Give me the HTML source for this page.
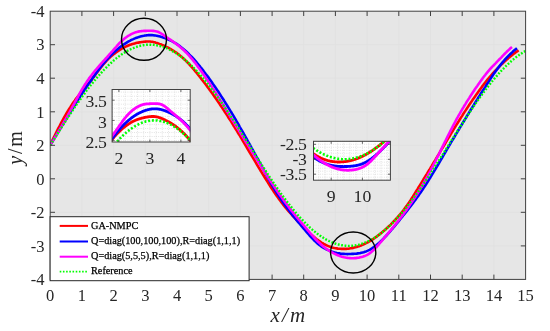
<!DOCTYPE html><html><head><meta charset="utf-8"><title>Trajectory tracking</title>
<style>html,body{margin:0;padding:0;background:#fff;}svg{display:block;}text{font-family:"Liberation Serif","DejaVu Serif",serif;fill:#262626;}</style></head><body>
<svg width="550" height="331" viewBox="0 0 550 331">
<rect x="0" y="0" width="550" height="331" fill="#ffffff"/>
<rect x="50.2" y="11.2" width="475.4" height="268.2" fill="#e6e6e6"/>
<path d="M81.9,11.2 V279.4 M113.6,11.2 V279.4 M145.3,11.2 V279.4 M177.0,11.2 V279.4 M208.7,11.2 V279.4 M240.4,11.2 V279.4 M272.1,11.2 V279.4 M303.7,11.2 V279.4 M335.4,11.2 V279.4 M367.1,11.2 V279.4 M398.8,11.2 V279.4 M430.5,11.2 V279.4 M462.2,11.2 V279.4 M493.9,11.2 V279.4 M50.2,44.7 H525.6 M50.2,78.2 H525.6 M50.2,111.8 H525.6 M50.2,145.3 H525.6 M50.2,178.8 H525.6 M50.2,212.3 H525.6 M50.2,245.9 H525.6" stroke="#e0e0e0" stroke-width="0.8" fill="none"/>
<clipPath id="c0"><rect x="50.2" y="11.2" width="475.4" height="268.2"/></clipPath>
<g clip-path="url(#c0)" fill="none" stroke-linejoin="round">
<path d="M50.2,144.5 L51.4,142.2 L52.5,140.0 L53.7,137.6 L54.9,135.3 L56.1,132.9 L57.2,130.6 L58.4,128.2 L59.6,126.0 L60.8,123.7 L61.9,121.5 L63.1,119.3 L64.3,117.2 L65.5,115.1 L66.6,113.1 L67.8,111.1 L69.0,109.2 L70.2,107.4 L71.3,105.6 L72.5,103.8 L73.7,102.1 L74.9,100.5 L76.0,98.8 L77.2,97.2 L78.4,95.7 L79.6,94.2 L80.7,92.7 L81.9,91.3 L83.1,89.9 L84.2,88.5 L85.4,87.2 L86.6,85.8 L87.8,84.5 L88.9,83.0 L90.1,81.6 L91.3,80.1 L92.5,78.6 L93.6,77.0 L94.8,75.4 L96.0,73.8 L97.2,72.2 L98.3,70.7 L99.5,69.1 L100.7,67.6 L101.9,66.1 L103.0,64.7 L104.2,63.3 L105.4,62.0 L106.6,60.7 L107.7,59.5 L108.9,58.4 L110.1,57.3 L111.2,56.2 L112.4,55.2 L113.6,54.3 L114.8,53.4 L115.9,52.5 L117.1,51.6 L118.3,50.8 L119.5,50.1 L120.6,49.4 L121.8,48.7 L123.0,48.0 L124.2,47.4 L125.3,46.8 L126.5,46.2 L127.7,45.7 L128.9,45.2 L130.0,44.8 L131.2,44.4 L132.4,44.0 L133.6,43.7 L134.7,43.4 L135.9,43.1 L137.1,42.8 L138.3,42.6 L139.4,42.4 L140.6,42.2 L141.8,42.0 L142.9,41.9 L144.1,41.7 L145.3,41.6 L146.5,41.5 L147.6,41.5 L148.8,41.5 L150.0,41.5 L151.2,41.7 L152.3,41.8 L153.5,42.1 L154.7,42.3 L155.9,42.7 L157.0,43.0 L158.2,43.4 L159.4,43.9 L160.6,44.3 L161.7,44.8 L162.9,45.3 L164.1,45.8 L165.3,46.3 L166.4,46.9 L167.6,47.4 L168.8,48.0 L169.9,48.7 L171.1,49.4 L172.3,50.1 L173.5,50.8 L174.6,51.6 L175.8,52.4 L177.0,53.2 L178.2,54.1 L179.3,55.0 L180.5,56.0 L181.7,56.9 L182.9,58.0 L184.0,59.0 L185.2,60.1 L186.4,61.3 L187.6,62.5 L188.7,63.7 L189.9,65.0 L191.1,66.3 L192.3,67.6 L193.4,69.0 L194.6,70.4 L195.8,71.8 L197.0,73.2 L198.1,74.7 L199.3,76.2 L200.5,77.7 L201.6,79.2 L202.8,80.7 L204.0,82.2 L205.2,83.8 L206.3,85.3 L207.5,86.9 L208.7,88.5 L209.9,90.1 L211.0,91.7 L212.2,93.3 L213.4,95.0 L214.6,96.7 L215.7,98.3 L216.9,100.0 L218.1,101.7 L219.3,103.4 L220.4,105.2 L221.6,106.9 L222.8,108.7 L224.0,110.5 L225.1,112.3 L226.3,114.1 L227.5,115.9 L228.6,117.7 L229.8,119.6 L231.0,121.4 L232.2,123.3 L233.3,125.2 L234.5,127.1 L235.7,129.0 L236.9,130.9 L238.0,132.8 L239.2,134.7 L240.4,136.7 L241.6,138.6 L242.7,140.6 L243.9,142.6 L245.1,144.5 L246.3,146.5 L247.4,148.5 L248.6,150.5 L249.8,152.5 L251.0,154.5 L252.1,156.4 L253.3,158.4 L254.5,160.4 L255.7,162.4 L256.8,164.3 L258.0,166.3 L259.2,168.3 L260.3,170.2 L261.5,172.1 L262.7,174.1 L263.9,176.0 L265.0,177.9 L266.2,179.8 L267.4,181.6 L268.6,183.5 L269.7,185.3 L270.9,187.2 L272.1,189.0 L273.3,190.7 L274.4,192.5 L275.6,194.2 L276.8,195.9 L278.0,197.6 L279.1,199.2 L280.3,200.8 L281.5,202.4 L282.7,203.9 L283.8,205.4 L285.0,206.9 L286.2,208.3 L287.3,209.7 L288.5,211.1 L289.7,212.4 L290.9,213.7 L292.0,215.0 L293.2,216.3 L294.4,217.5 L295.6,218.8 L296.7,220.0 L297.9,221.3 L299.1,222.5 L300.3,223.7 L301.4,224.9 L302.6,226.1 L303.8,227.4 L305.0,228.5 L306.1,229.7 L307.3,230.9 L308.5,232.0 L309.7,233.1 L310.8,234.2 L312.0,235.3 L313.2,236.3 L314.4,237.3 L315.5,238.2 L316.7,239.2 L317.9,240.1 L319.0,240.9 L320.2,241.7 L321.4,242.5 L322.6,243.2 L323.7,243.9 L324.9,244.5 L326.1,245.1 L327.3,245.7 L328.4,246.1 L329.6,246.6 L330.8,247.0 L332.0,247.4 L333.1,247.7 L334.3,248.0 L335.5,248.2 L336.7,248.4 L337.8,248.6 L339.0,248.7 L340.2,248.8 L341.4,248.9 L342.5,248.9 L343.7,248.9 L344.9,248.9 L346.0,248.9 L347.2,248.8 L348.4,248.7 L349.6,248.5 L350.7,248.3 L351.9,248.1 L353.1,247.9 L354.3,247.6 L355.4,247.3 L356.6,247.0 L357.8,246.6 L359.0,246.2 L360.1,245.8 L361.3,245.4 L362.5,244.9 L363.7,244.3 L364.8,243.8 L366.0,243.2 L367.2,242.6 L368.4,242.0 L369.5,241.3 L370.7,240.6 L371.9,239.8 L373.1,239.1 L374.2,238.3 L375.4,237.5 L376.6,236.6 L377.7,235.8 L378.9,234.9 L380.1,234.0 L381.3,233.0 L382.4,232.1 L383.6,231.1 L384.8,230.0 L386.0,229.0 L387.1,227.9 L388.3,226.8 L389.5,225.7 L390.7,224.6 L391.8,223.4 L393.0,222.2 L394.2,220.9 L395.4,219.7 L396.5,218.4 L397.7,217.1 L398.9,215.7 L400.1,214.4 L401.2,213.0 L402.4,211.5 L403.6,210.0 L404.7,208.5 L405.9,206.9 L407.1,205.3 L408.3,203.6 L409.4,201.9 L410.6,200.2 L411.8,198.3 L413.0,196.5 L414.1,194.6 L415.3,192.7 L416.5,190.8 L417.7,188.9 L418.8,187.0 L420.0,185.1 L421.2,183.2 L422.4,181.3 L423.5,179.3 L424.7,177.4 L425.9,175.5 L427.1,173.6 L428.2,171.7 L429.4,169.8 L430.6,167.8 L431.8,165.9 L432.9,164.0 L434.1,162.0 L435.3,160.1 L436.4,158.1 L437.6,156.1 L438.8,154.2 L440.0,152.2 L441.1,150.2 L442.3,148.2 L443.5,146.3 L444.7,144.3 L445.8,142.3 L447.0,140.4 L448.2,138.4 L449.4,136.5 L450.5,134.5 L451.7,132.6 L452.9,130.7 L454.1,128.7 L455.2,126.8 L456.4,124.9 L457.6,123.0 L458.8,121.1 L459.9,119.3 L461.1,117.4 L462.3,115.6 L463.4,113.7 L464.6,111.9 L465.8,110.1 L467.0,108.3 L468.1,106.6 L469.3,104.8 L470.5,103.0 L471.7,101.3 L472.8,99.6 L474.0,97.9 L475.2,96.2 L476.4,94.5 L477.5,92.9 L478.7,91.2 L479.9,89.6 L481.1,88.0 L482.2,86.4 L483.4,84.9 L484.6,83.3 L485.8,81.8 L486.9,80.4 L488.1,78.9 L489.3,77.5 L490.5,76.2 L491.6,74.8 L492.8,73.5 L494.0,72.2 L495.1,71.0 L496.3,69.7 L497.5,68.5 L498.7,67.3 L499.8,66.1 L501.0,64.9 L502.2,63.8 L503.4,62.7 L504.5,61.6 L505.7,60.5 L506.9,59.4 L508.1,58.4 L509.2,57.4 L510.4,56.4 L511.6,55.5 L512.8,54.5 L513.9,53.6 L515.1,52.8 L516.3,51.9 L517.5,51.1 L518.6,50.3" stroke="#ff0000" stroke-width="2.6"/>
<path d="M50.2,145.2 L51.4,143.3 L52.5,141.4 L53.7,139.4 L54.9,137.5 L56.1,135.6 L57.2,133.6 L58.4,131.7 L59.6,129.8 L60.7,127.8 L61.9,125.9 L63.1,124.0 L64.2,122.0 L65.4,120.1 L66.6,118.2 L67.8,116.3 L68.9,114.4 L70.1,112.5 L71.3,110.6 L72.4,108.7 L73.6,106.9 L74.8,105.0 L75.9,103.1 L77.1,101.3 L78.3,99.5 L79.5,97.7 L80.6,95.9 L81.8,94.1 L83.0,92.3 L84.1,90.5 L85.3,88.8 L86.5,87.0 L87.6,85.3 L88.8,83.6 L90.0,81.9 L91.2,80.2 L92.3,78.5 L93.5,76.9 L94.7,75.2 L95.8,73.6 L97.0,72.0 L98.2,70.4 L99.3,68.8 L100.5,67.3 L101.7,65.8 L102.9,64.3 L104.0,62.9 L105.2,61.5 L106.4,60.2 L107.5,58.9 L108.7,57.6 L109.9,56.4 L111.0,55.2 L112.2,54.0 L113.4,52.9 L114.6,51.8 L115.7,50.8 L116.9,49.8 L118.1,48.8 L119.2,47.8 L120.4,46.9 L121.6,46.0 L122.7,45.2 L123.9,44.4 L125.1,43.6 L126.3,42.8 L127.4,42.1 L128.6,41.4 L129.8,40.8 L130.9,40.2 L132.1,39.6 L133.3,39.1 L134.4,38.6 L135.6,38.1 L136.8,37.7 L138.0,37.3 L139.1,36.9 L140.3,36.6 L141.5,36.3 L142.6,36.0 L143.8,35.8 L145.0,35.5 L146.1,35.4 L147.3,35.2 L148.5,35.1 L149.7,35.1 L150.8,35.1 L152.0,35.1 L153.2,35.2 L154.3,35.4 L155.5,35.5 L156.7,35.7 L157.8,36.0 L159.0,36.3 L160.2,36.6 L161.4,36.9 L162.5,37.3 L163.7,37.7 L164.9,38.1 L166.0,38.6 L167.2,39.0 L168.4,39.6 L169.5,40.1 L170.7,40.6 L171.9,41.2 L173.1,41.8 L174.2,42.5 L175.4,43.2 L176.6,43.9 L177.7,44.7 L178.9,45.5 L180.1,46.4 L181.2,47.3 L182.4,48.2 L183.6,49.2 L184.8,50.2 L185.9,51.2 L187.1,52.3 L188.3,53.4 L189.4,54.6 L190.6,55.8 L191.8,57.0 L192.9,58.2 L194.1,59.5 L195.3,60.8 L196.5,62.2 L197.6,63.6 L198.8,65.0 L200.0,66.4 L201.1,67.9 L202.3,69.4 L203.5,70.9 L204.6,72.4 L205.8,74.0 L207.0,75.5 L208.2,77.1 L209.3,78.7 L210.5,80.4 L211.7,82.0 L212.8,83.7 L214.0,85.4 L215.2,87.1 L216.3,88.8 L217.5,90.6 L218.7,92.3 L219.9,94.1 L221.0,95.9 L222.2,97.7 L223.4,99.5 L224.5,101.4 L225.7,103.3 L226.9,105.1 L228.0,107.0 L229.2,108.9 L230.4,110.9 L231.6,112.8 L232.7,114.7 L233.9,116.7 L235.1,118.7 L236.2,120.7 L237.4,122.7 L238.6,124.7 L239.7,126.8 L240.9,128.8 L242.1,130.9 L243.3,132.9 L244.4,135.0 L245.6,137.1 L246.8,139.2 L247.9,141.3 L249.1,143.4 L250.3,145.5 L251.4,147.6 L252.6,149.7 L253.8,151.8 L255.0,154.0 L256.1,156.1 L257.3,158.2 L258.5,160.4 L259.6,162.5 L260.8,164.7 L262.0,166.8 L263.1,169.0 L264.3,171.2 L265.5,173.3 L266.7,175.4 L267.8,177.6 L269.0,179.7 L270.2,181.7 L271.3,183.8 L272.5,185.8 L273.7,187.8 L274.8,189.7 L276.0,191.6 L277.2,193.5 L278.4,195.3 L279.5,197.1 L280.7,198.9 L281.9,200.6 L283.0,202.3 L284.2,203.9 L285.4,205.6 L286.5,207.2 L287.7,208.8 L288.9,210.3 L290.1,211.9 L291.2,213.4 L292.4,214.9 L293.6,216.4 L294.7,217.8 L295.9,219.3 L297.1,220.7 L298.2,222.1 L299.4,223.5 L300.6,224.9 L301.8,226.3 L302.9,227.7 L304.1,229.0 L305.3,230.4 L306.4,231.8 L307.6,233.1 L308.8,234.5 L309.9,235.8 L311.1,237.1 L312.3,238.4 L313.5,239.6 L314.6,240.8 L315.8,241.9 L317.0,243.0 L318.1,244.0 L319.3,244.9 L320.5,245.8 L321.6,246.6 L322.8,247.4 L324.0,248.1 L325.2,248.7 L326.3,249.3 L327.5,249.9 L328.7,250.4 L329.8,250.9 L331.0,251.3 L332.2,251.8 L333.3,252.1 L334.5,252.4 L335.7,252.7 L336.9,253.0 L338.0,253.2 L339.2,253.4 L340.4,253.6 L341.5,253.7 L342.7,253.9 L343.9,253.9 L345.0,254.0 L346.2,254.0 L347.4,254.1 L348.6,254.0 L349.7,254.0 L350.9,254.0 L352.1,253.9 L353.2,253.9 L354.4,253.8 L355.6,253.7 L356.7,253.6 L357.9,253.4 L359.1,253.3 L360.3,253.1 L361.4,252.8 L362.6,252.5 L363.8,252.2 L364.9,251.8 L366.1,251.4 L367.3,250.9 L368.4,250.4 L369.6,249.8 L370.8,249.1 L372.0,248.4 L373.1,247.6 L374.3,246.8 L375.5,245.9 L376.6,244.9 L377.8,244.0 L379.0,242.9 L380.1,241.9 L381.3,240.8 L382.5,239.6 L383.7,238.4 L384.8,237.2 L386.0,236.0 L387.2,234.7 L388.3,233.4 L389.5,232.1 L390.7,230.7 L391.8,229.3 L393.0,228.0 L394.2,226.6 L395.4,225.2 L396.5,223.7 L397.7,222.3 L398.9,220.9 L400.0,219.4 L401.2,218.0 L402.4,216.6 L403.5,215.1 L404.7,213.7 L405.9,212.2 L407.1,210.7 L408.2,209.2 L409.4,207.7 L410.6,206.2 L411.7,204.7 L412.9,203.1 L414.1,201.5 L415.3,200.0 L416.4,198.3 L417.6,196.7 L418.8,195.1 L419.9,193.4 L421.1,191.7 L422.3,190.0 L423.4,188.2 L424.6,186.5 L425.8,184.7 L427.0,182.9 L428.1,181.0 L429.3,179.1 L430.5,177.2 L431.6,175.3 L432.8,173.4 L434.0,171.4 L435.1,169.5 L436.3,167.5 L437.5,165.5 L438.7,163.5 L439.8,161.5 L441.0,159.5 L442.2,157.5 L443.3,155.5 L444.5,153.5 L445.7,151.5 L446.8,149.6 L448.0,147.6 L449.2,145.6 L450.4,143.6 L451.5,141.7 L452.7,139.7 L453.9,137.8 L455.0,135.8 L456.2,133.9 L457.4,131.9 L458.5,130.0 L459.7,128.0 L460.9,126.1 L462.1,124.1 L463.2,122.2 L464.4,120.3 L465.6,118.3 L466.7,116.4 L467.9,114.5 L469.1,112.6 L470.2,110.7 L471.4,108.8 L472.6,106.9 L473.8,105.0 L474.9,103.1 L476.1,101.2 L477.3,99.4 L478.4,97.5 L479.6,95.7 L480.8,93.8 L481.9,92.0 L483.1,90.2 L484.3,88.4 L485.5,86.6 L486.6,84.7 L487.8,82.9 L489.0,81.2 L490.1,79.4 L491.3,77.6 L492.5,75.8 L493.6,74.1 L494.8,72.4 L496.0,70.8 L497.2,69.2 L498.3,67.6 L499.5,66.1 L500.7,64.6 L501.8,63.2 L503.0,61.8 L504.2,60.5 L505.3,59.2 L506.5,57.9 L507.7,56.6 L508.9,55.4 L510.0,54.3 L511.2,53.2 L512.4,52.1 L513.5,51.0 L514.7,50.0 L515.9,49.1 L517.0,48.2" stroke="#0000ff" stroke-width="2.6"/>
<path d="M50.2,145.2 L51.4,143.4 L52.5,141.5 L53.7,139.6 L54.8,137.7 L56.0,135.7 L57.1,133.8 L58.3,131.8 L59.5,129.9 L60.6,127.9 L61.8,125.9 L62.9,124.0 L64.1,122.0 L65.2,120.0 L66.4,117.9 L67.6,115.9 L68.7,113.8 L69.9,111.7 L71.0,109.6 L72.2,107.4 L73.3,105.3 L74.5,103.1 L75.7,100.9 L76.8,98.8 L78.0,96.6 L79.1,94.5 L80.3,92.4 L81.4,90.4 L82.6,88.4 L83.8,86.5 L84.9,84.6 L86.1,82.9 L87.2,81.1 L88.4,79.5 L89.5,77.8 L90.7,76.3 L91.9,74.8 L93.0,73.3 L94.2,71.8 L95.3,70.4 L96.5,69.0 L97.7,67.6 L98.8,66.3 L100.0,65.0 L101.1,63.6 L102.3,62.4 L103.4,61.1 L104.6,59.8 L105.8,58.5 L106.9,57.3 L108.1,56.0 L109.2,54.7 L110.4,53.4 L111.5,52.1 L112.7,50.8 L113.9,49.4 L115.0,48.1 L116.2,46.8 L117.3,45.5 L118.5,44.2 L119.6,43.0 L120.8,41.8 L122.0,40.7 L123.1,39.7 L124.3,38.7 L125.4,37.8 L126.6,37.0 L127.7,36.2 L128.9,35.5 L130.1,34.8 L131.2,34.2 L132.4,33.6 L133.5,33.1 L134.7,32.6 L135.8,32.2 L137.0,31.9 L138.2,31.6 L139.3,31.4 L140.5,31.2 L141.6,31.1 L142.8,31.0 L143.9,30.9 L145.1,30.9 L146.3,30.9 L147.4,30.8 L148.6,30.8 L149.7,30.8 L150.9,30.8 L152.0,30.8 L153.2,30.9 L154.4,31.0 L155.5,31.2 L156.7,31.5 L157.8,31.8 L159.0,32.3 L160.1,32.9 L161.3,33.6 L162.5,34.3 L163.6,35.1 L164.8,35.9 L165.9,36.8 L167.1,37.6 L168.2,38.4 L169.4,39.1 L170.6,39.9 L171.7,40.7 L172.9,41.5 L174.0,42.3 L175.2,43.1 L176.3,44.0 L177.5,44.9 L178.7,45.8 L179.8,46.7 L181.0,47.7 L182.1,48.7 L183.3,49.8 L184.4,50.8 L185.6,52.0 L186.8,53.2 L187.9,54.4 L189.1,55.6 L190.2,57.0 L191.4,58.3 L192.6,59.7 L193.7,61.2 L194.9,62.6 L196.0,64.1 L197.2,65.7 L198.3,67.2 L199.5,68.8 L200.7,70.4 L201.8,72.0 L203.0,73.7 L204.1,75.3 L205.3,77.0 L206.4,78.7 L207.6,80.4 L208.8,82.1 L209.9,83.9 L211.1,85.6 L212.2,87.4 L213.4,89.2 L214.5,91.0 L215.7,92.8 L216.9,94.7 L218.0,96.5 L219.2,98.4 L220.3,100.3 L221.5,102.1 L222.6,104.0 L223.8,105.9 L225.0,107.8 L226.1,109.7 L227.3,111.6 L228.4,113.5 L229.6,115.4 L230.7,117.3 L231.9,119.2 L233.1,121.1 L234.2,122.9 L235.4,124.8 L236.5,126.7 L237.7,128.6 L238.8,130.4 L240.0,132.3 L241.2,134.2 L242.3,136.0 L243.5,137.9 L244.6,139.8 L245.8,141.7 L246.9,143.5 L248.1,145.4 L249.3,147.3 L250.4,149.2 L251.6,151.0 L252.7,152.9 L253.9,154.8 L255.0,156.6 L256.2,158.5 L257.4,160.3 L258.5,162.2 L259.7,164.0 L260.8,165.8 L262.0,167.7 L263.1,169.5 L264.3,171.3 L265.5,173.1 L266.6,174.9 L267.8,176.7 L268.9,178.5 L270.1,180.3 L271.2,182.0 L272.4,183.8 L273.6,185.5 L274.7,187.3 L275.9,189.0 L277.0,190.7 L278.2,192.4 L279.3,194.0 L280.5,195.7 L281.7,197.3 L282.8,199.0 L284.0,200.6 L285.1,202.2 L286.3,203.7 L287.5,205.3 L288.6,206.8 L289.8,208.4 L290.9,209.9 L292.1,211.3 L293.2,212.8 L294.4,214.2 L295.6,215.7 L296.7,217.1 L297.9,218.5 L299.0,219.9 L300.2,221.2 L301.3,222.6 L302.5,224.0 L303.7,225.3 L304.8,226.7 L306.0,228.1 L307.1,229.4 L308.3,230.8 L309.4,232.2 L310.6,233.6 L311.8,234.9 L312.9,236.2 L314.1,237.5 L315.2,238.8 L316.4,240.0 L317.5,241.2 L318.7,242.3 L319.9,243.4 L321.0,244.5 L322.2,245.5 L323.3,246.4 L324.5,247.3 L325.6,248.2 L326.8,249.1 L328.0,249.9 L329.1,250.6 L330.3,251.4 L331.4,252.1 L332.6,252.7 L333.7,253.3 L334.9,253.9 L336.1,254.5 L337.2,255.0 L338.4,255.5 L339.5,255.9 L340.7,256.3 L341.8,256.7 L343.0,257.0 L344.2,257.3 L345.3,257.5 L346.5,257.7 L347.6,257.9 L348.8,258.0 L349.9,258.1 L351.1,258.2 L352.3,258.2 L353.4,258.2 L354.6,258.1 L355.7,258.1 L356.9,257.9 L358.0,257.8 L359.2,257.6 L360.4,257.3 L361.5,257.0 L362.7,256.7 L363.8,256.3 L365.0,255.9 L366.1,255.4 L367.3,254.8 L368.5,254.1 L369.6,253.4 L370.8,252.5 L371.9,251.6 L373.1,250.6 L374.3,249.4 L375.4,248.2 L376.6,247.0 L377.7,245.7 L378.9,244.3 L380.0,242.9 L381.2,241.6 L382.4,240.2 L383.5,238.8 L384.7,237.4 L385.8,236.0 L387.0,234.6 L388.1,233.3 L389.3,231.9 L390.5,230.5 L391.6,229.1 L392.8,227.7 L393.9,226.3 L395.1,224.9 L396.2,223.5 L397.4,222.0 L398.6,220.5 L399.7,219.0 L400.9,217.5 L402.0,216.0 L403.2,214.4 L404.3,212.8 L405.5,211.2 L406.7,209.6 L407.8,207.9 L409.0,206.2 L410.1,204.6 L411.3,202.8 L412.4,201.1 L413.6,199.4 L414.8,197.6 L415.9,195.8 L417.1,194.0 L418.2,192.2 L419.4,190.3 L420.5,188.4 L421.7,186.5 L422.9,184.5 L424.0,182.5 L425.2,180.5 L426.3,178.4 L427.5,176.3 L428.6,174.2 L429.8,172.0 L431.0,169.8 L432.1,167.6 L433.3,165.3 L434.4,163.0 L435.6,160.8 L436.7,158.4 L437.9,156.1 L439.1,153.8 L440.2,151.5 L441.4,149.1 L442.5,146.8 L443.7,144.4 L444.8,142.1 L446.0,139.8 L447.2,137.4 L448.3,135.1 L449.5,132.8 L450.6,130.6 L451.8,128.3 L452.9,126.1 L454.1,123.8 L455.3,121.7 L456.4,119.5 L457.6,117.4 L458.7,115.3 L459.9,113.3 L461.0,111.3 L462.2,109.3 L463.4,107.4 L464.5,105.5 L465.7,103.6 L466.8,101.7 L468.0,99.9 L469.2,98.1 L470.3,96.3 L471.5,94.5 L472.6,92.8 L473.8,91.0 L474.9,89.3 L476.1,87.6 L477.3,85.9 L478.4,84.2 L479.6,82.6 L480.7,81.0 L481.9,79.4 L483.0,77.8 L484.2,76.3 L485.4,74.8 L486.5,73.3 L487.7,71.9 L488.8,70.6 L490.0,69.2 L491.1,68.0 L492.3,66.7 L493.5,65.5 L494.6,64.3 L495.8,63.1 L496.9,61.9 L498.1,60.7 L499.2,59.5 L500.4,58.3 L501.6,57.1 L502.7,55.9 L503.9,54.7 L505.0,53.5 L506.2,52.4 L507.3,51.2 L508.5,50.1 L509.7,49.0 L510.8,47.9 L512.0,46.9" stroke="#ff00ff" stroke-width="2.6"/>
<path d="M50.2,145.3 L51.4,143.4 L52.6,141.5 L53.8,139.6 L55.0,137.7 L56.2,135.9 L57.3,134.0 L58.5,132.1 L59.7,130.2 L60.9,128.4 L62.1,126.5 L63.3,124.7 L64.5,122.8 L65.7,121.0 L66.9,119.1 L68.1,117.3 L69.3,115.5 L70.5,113.7 L71.6,111.9 L72.8,110.1 L74.0,108.4 L75.2,106.6 L76.4,104.9 L77.6,103.2 L78.8,101.5 L80.0,99.8 L81.2,98.1 L82.4,96.4 L83.6,94.8 L84.8,93.2 L85.9,91.5 L87.1,90.0 L88.3,88.4 L89.5,86.8 L90.7,85.3 L91.9,83.8 L93.1,82.3 L94.3,80.9 L95.5,79.4 L96.7,78.0 L97.9,76.6 L99.1,75.2 L100.2,73.9 L101.4,72.6 L102.6,71.3 L103.8,70.0 L105.0,68.8 L106.2,67.6 L107.4,66.4 L108.6,65.2 L109.8,64.1 L111.0,63.0 L112.2,61.9 L113.3,60.9 L114.5,59.9 L115.7,58.9 L116.9,57.9 L118.1,57.0 L119.3,56.1 L120.5,55.3 L121.7,54.4 L122.9,53.6 L124.1,52.9 L125.3,52.1 L126.5,51.5 L127.6,50.8 L128.8,50.2 L130.0,49.6 L131.2,49.0 L132.4,48.5 L133.6,48.0 L134.8,47.5 L136.0,47.1 L137.2,46.7 L138.4,46.3 L139.6,46.0 L140.8,45.7 L141.9,45.5 L143.1,45.3 L144.3,45.1 L145.5,45.0 L146.7,44.8 L147.9,44.8 L149.1,44.7 L150.3,44.7 L151.5,44.8 L152.7,44.8 L153.9,44.9 L155.1,45.1 L156.2,45.2 L157.4,45.5 L158.6,45.7 L159.8,46.0 L161.0,46.3 L162.2,46.7 L163.4,47.0 L164.6,47.5 L165.8,47.9 L167.0,48.4 L168.2,48.9 L169.3,49.5 L170.5,50.1 L171.7,50.7 L172.9,51.4 L174.1,52.1 L175.3,52.8 L176.5,53.5 L177.7,54.3 L178.9,55.1 L180.1,56.0 L181.3,56.9 L182.5,57.8 L183.6,58.8 L184.8,59.7 L186.0,60.7 L187.2,61.8 L188.4,62.8 L189.6,63.9 L190.8,65.1 L192.0,66.2 L193.2,67.4 L194.4,68.6 L195.6,69.8 L196.8,71.1 L197.9,72.4 L199.1,73.7 L200.3,75.1 L201.5,76.4 L202.7,77.8 L203.9,79.2 L205.1,80.7 L206.3,82.1 L207.5,83.6 L208.7,85.1 L209.9,86.6 L211.0,88.2 L212.2,89.7 L213.4,91.3 L214.6,92.9 L215.8,94.6 L217.0,96.2 L218.2,97.9 L219.4,99.5 L220.6,101.2 L221.8,102.9 L223.0,104.7 L224.2,106.4 L225.3,108.1 L226.5,109.9 L227.7,111.7 L228.9,113.5 L230.1,115.3 L231.3,117.1 L232.5,118.9 L233.7,120.7 L234.9,122.6 L236.1,124.4 L237.3,126.3 L238.5,128.1 L239.6,130.0 L240.8,131.9 L242.0,133.7 L243.2,135.6 L244.4,137.5 L245.6,139.4 L246.8,141.3 L248.0,143.2 L249.2,145.0 L250.4,146.9 L251.6,148.8 L252.8,150.7 L253.9,152.6 L255.1,154.5 L256.3,156.4 L257.5,158.2 L258.7,160.1 L259.9,162.0 L261.1,163.8 L262.3,165.7 L263.5,167.5 L264.7,169.4 L265.9,171.2 L267.0,173.0 L268.2,174.9 L269.4,176.7 L270.6,178.4 L271.8,180.2 L273.0,182.0 L274.2,183.7 L275.4,185.5 L276.6,187.2 L277.8,188.9 L279.0,190.6 L280.2,192.3 L281.3,194.0 L282.5,195.6 L283.7,197.2 L284.9,198.8 L286.1,200.4 L287.3,202.0 L288.5,203.6 L289.7,205.1 L290.9,206.6 L292.1,208.1 L293.3,209.6 L294.5,211.0 L295.6,212.4 L296.8,213.8 L298.0,215.2 L299.2,216.5 L300.4,217.9 L301.6,219.1 L302.8,220.4 L304.0,221.7 L305.2,222.9 L306.4,224.1 L307.6,225.2 L308.8,226.4 L309.9,227.5 L311.1,228.5 L312.3,229.6 L313.5,230.6 L314.7,231.6 L315.9,232.5 L317.1,233.5 L318.3,234.4 L319.5,235.2 L320.7,236.1 L321.9,236.9 L323.0,237.6 L324.2,238.4 L325.4,239.1 L326.6,239.7 L327.8,240.4 L329.0,241.0 L330.2,241.5 L331.4,242.1 L332.6,242.6 L333.8,243.0 L335.0,243.5 L336.2,243.8 L337.3,244.2 L338.5,244.5 L339.7,244.8 L340.9,245.1 L342.1,245.3 L343.3,245.5 L344.5,245.6 L345.7,245.7 L346.9,245.8 L348.1,245.9 L349.3,245.9 L350.5,245.8 L351.6,245.8 L352.8,245.7 L354.0,245.5 L355.2,245.4 L356.4,245.2 L357.6,244.9 L358.8,244.7 L360.0,244.3 L361.2,244.0 L362.4,243.6 L363.6,243.2 L364.8,242.7 L365.9,242.3 L367.1,241.7 L368.3,241.2 L369.5,240.6 L370.7,240.0 L371.9,239.3 L373.1,238.6 L374.3,237.9 L375.5,237.2 L376.7,236.4 L377.9,235.6 L379.0,234.7 L380.2,233.8 L381.4,232.9 L382.6,232.0 L383.8,231.0 L385.0,230.0 L386.2,229.0 L387.4,227.9 L388.6,226.8 L389.8,225.7 L391.0,224.5 L392.2,223.4 L393.3,222.1 L394.5,220.9 L395.7,219.7 L396.9,218.4 L398.1,217.1 L399.3,215.7 L400.5,214.4 L401.7,213.0 L402.9,211.6 L404.1,210.1 L405.3,208.7 L406.5,207.2 L407.6,205.7 L408.8,204.2 L410.0,202.6 L411.2,201.1 L412.4,199.5 L413.6,197.9 L414.8,196.3 L416.0,194.6 L417.2,193.0 L418.4,191.3 L419.6,189.6 L420.7,187.9 L421.9,186.2 L423.1,184.4 L424.3,182.7 L425.5,180.9 L426.7,179.2 L427.9,177.4 L429.1,175.6 L430.3,173.8 L431.5,171.9 L432.7,170.1 L433.9,168.3 L435.0,166.4 L436.2,164.6 L437.4,162.7 L438.6,160.9 L439.8,159.0 L441.0,157.1 L442.2,155.2 L443.4,153.4 L444.6,151.5 L445.8,149.6 L447.0,147.7 L448.2,145.8 L449.3,143.9 L450.5,142.0 L451.7,140.1 L452.9,138.2 L454.1,136.4 L455.3,134.5 L456.5,132.6 L457.7,130.7 L458.9,128.9 L460.1,127.0 L461.3,125.1 L462.5,123.3 L463.6,121.5 L464.8,119.6 L466.0,117.8 L467.2,116.0 L468.4,114.2 L469.6,112.4 L470.8,110.6 L472.0,108.8 L473.2,107.1 L474.4,105.3 L475.6,103.6 L476.7,101.9 L477.9,100.2 L479.1,98.5 L480.3,96.9 L481.5,95.2 L482.7,93.6 L483.9,92.0 L485.1,90.4 L486.3,88.8 L487.5,87.2 L488.7,85.7 L489.9,84.2 L491.0,82.7 L492.2,81.2 L493.4,79.8 L494.6,78.4 L495.8,77.0 L497.0,75.6 L498.2,74.2 L499.4,72.9 L500.6,71.6 L501.8,70.3 L503.0,69.1 L504.2,67.9 L505.3,66.7 L506.5,65.5 L507.7,64.4 L508.9,63.3 L510.1,62.2 L511.3,61.1 L512.5,60.1 L513.7,59.1 L514.9,58.2 L516.1,57.2 L517.3,56.4 L518.5,55.5 L519.6,54.6 L520.8,53.8 L522.0,53.1 L523.2,52.3 L524.4,51.6 L525.6,51.0" stroke="#00ff00" stroke-width="2.4" stroke-dasharray="1.8 1.6"/>
</g>
<path d="M81.9,279.4 v-4.8 M81.9,11.2 v4.8 M113.6,279.4 v-4.8 M113.6,11.2 v4.8 M145.3,279.4 v-4.8 M145.3,11.2 v4.8 M177.0,279.4 v-4.8 M177.0,11.2 v4.8 M208.7,279.4 v-4.8 M208.7,11.2 v4.8 M240.4,279.4 v-4.8 M240.4,11.2 v4.8 M272.1,279.4 v-4.8 M272.1,11.2 v4.8 M303.7,279.4 v-4.8 M303.7,11.2 v4.8 M335.4,279.4 v-4.8 M335.4,11.2 v4.8 M367.1,279.4 v-4.8 M367.1,11.2 v4.8 M398.8,279.4 v-4.8 M398.8,11.2 v4.8 M430.5,279.4 v-4.8 M430.5,11.2 v4.8 M462.2,279.4 v-4.8 M462.2,11.2 v4.8 M493.9,279.4 v-4.8 M493.9,11.2 v4.8 M50.2,44.7 h4.8 M525.6,44.7 h-4.8 M50.2,78.2 h4.8 M525.6,78.2 h-4.8 M50.2,111.8 h4.8 M525.6,111.8 h-4.8 M50.2,145.3 h4.8 M525.6,145.3 h-4.8 M50.2,178.8 h4.8 M525.6,178.8 h-4.8 M50.2,212.3 h4.8 M525.6,212.3 h-4.8 M50.2,245.9 h4.8 M525.6,245.9 h-4.8" stroke="#404040" stroke-width="1" fill="none"/>
<rect x="50.2" y="11.2" width="475.4" height="268.2" fill="none" stroke="#404040" stroke-width="1"/>
<text x="50.2" y="300.6" font-size="16.5" text-anchor="middle">0</text>
<text x="81.9" y="300.6" font-size="16.5" text-anchor="middle">1</text>
<text x="113.6" y="300.6" font-size="16.5" text-anchor="middle">2</text>
<text x="145.3" y="300.6" font-size="16.5" text-anchor="middle">3</text>
<text x="177.0" y="300.6" font-size="16.5" text-anchor="middle">4</text>
<text x="208.7" y="300.6" font-size="16.5" text-anchor="middle">5</text>
<text x="240.4" y="300.6" font-size="16.5" text-anchor="middle">6</text>
<text x="272.1" y="300.6" font-size="16.5" text-anchor="middle">7</text>
<text x="303.7" y="300.6" font-size="16.5" text-anchor="middle">8</text>
<text x="335.4" y="300.6" font-size="16.5" text-anchor="middle">9</text>
<text x="367.1" y="300.6" font-size="16.5" text-anchor="middle">10</text>
<text x="398.8" y="300.6" font-size="16.5" text-anchor="middle">11</text>
<text x="430.5" y="300.6" font-size="16.5" text-anchor="middle">12</text>
<text x="462.2" y="300.6" font-size="16.5" text-anchor="middle">13</text>
<text x="493.9" y="300.6" font-size="16.5" text-anchor="middle">14</text>
<text x="525.6" y="300.6" font-size="16.5" text-anchor="middle">15</text>
<text x="44.5" y="16.9" font-size="16.5" text-anchor="end">-4</text>
<text x="44.5" y="50.4" font-size="16.5" text-anchor="end">3</text>
<text x="44.5" y="84.0" font-size="16.5" text-anchor="end">4</text>
<text x="44.5" y="117.5" font-size="16.5" text-anchor="end">1</text>
<text x="44.5" y="151.0" font-size="16.5" text-anchor="end">2</text>
<text x="44.5" y="184.5" font-size="16.5" text-anchor="end">0</text>
<text x="44.5" y="218.0" font-size="16.5" text-anchor="end">-2</text>
<text x="44.5" y="251.6" font-size="16.5" text-anchor="end">-3</text>
<text x="44.5" y="285.1" font-size="16.5" text-anchor="end">-4</text>
<text x="289" y="321.5" font-size="21" text-anchor="middle" font-style="italic" letter-spacing="2.2">x/m</text>
<text transform="translate(21.5,147) rotate(-90)" font-size="20" text-anchor="middle" letter-spacing="1.8"><tspan font-style="italic">y</tspan>/m</text>
<ellipse cx="144" cy="39.3" rx="22.5" ry="21" fill="none" stroke="#000" stroke-width="1.4"/>
<ellipse cx="353.2" cy="252.5" rx="22.6" ry="20.5" fill="none" stroke="#000" stroke-width="1.4"/>
<rect x="112.1" y="89.5" width="78.1" height="52.5" fill="#ffffff"/>
<path d="M112.7,89.5 V142.0 M118.9,89.5 V142.0 M125.1,89.5 V142.0 M131.3,89.5 V142.0 M137.5,89.5 V142.0 M143.7,89.5 V142.0 M149.9,89.5 V142.0 M156.1,89.5 V142.0 M162.3,89.5 V142.0 M168.5,89.5 V142.0 M174.7,89.5 V142.0 M180.9,89.5 V142.0 M187.1,89.5 V142.0 M112.1,140.6 H190.2 M112.1,136.5 H190.2 M112.1,132.5 H190.2 M112.1,128.5 H190.2 M112.1,124.4 H190.2 M112.1,120.4 H190.2 M112.1,116.4 H190.2 M112.1,112.3 H190.2 M112.1,108.3 H190.2 M112.1,104.2 H190.2 M112.1,100.2 H190.2 M112.1,96.2 H190.2 M112.1,92.1 H190.2" stroke="#c6c6c6" stroke-width="0.6" stroke-dasharray="0.8 1.4" fill="none"/>
<clipPath id="ci1"><rect x="112.1" y="89.5" width="78.1" height="52.5"/></clipPath>
<g clip-path="url(#ci1)" fill="none" stroke-linejoin="round">
<path d="M103.2,153.0 L103.5,152.4 L103.9,151.8 L104.3,151.2 L104.7,150.5 L105.1,149.9 L105.5,149.3 L105.8,148.7 L106.2,148.1 L106.6,147.5 L107.0,146.9 L107.4,146.3 L107.7,145.7 L108.1,145.1 L108.5,144.6 L108.9,144.0 L109.3,143.4 L109.7,142.9 L110.0,142.4 L110.4,141.8 L110.8,141.3 L111.2,140.8 L111.6,140.3 L111.9,139.8 L112.3,139.3 L112.7,138.8 L113.1,138.3 L113.5,137.9 L113.9,137.4 L114.2,136.9 L114.6,136.5 L115.0,136.0 L115.4,135.6 L115.8,135.2 L116.1,134.8 L116.5,134.3 L116.9,133.9 L117.3,133.5 L117.7,133.1 L118.1,132.8 L118.4,132.4 L118.8,132.0 L119.2,131.6 L119.6,131.3 L120.0,130.9 L120.4,130.5 L120.7,130.2 L121.1,129.8 L121.5,129.5 L121.9,129.2 L122.3,128.8 L122.6,128.5 L123.0,128.2 L123.4,127.9 L123.8,127.5 L124.2,127.2 L124.6,126.9 L124.9,126.6 L125.3,126.3 L125.7,126.1 L126.1,125.8 L126.5,125.5 L126.8,125.2 L127.2,124.9 L127.6,124.7 L128.0,124.4 L128.4,124.2 L128.8,123.9 L129.1,123.7 L129.5,123.4 L129.9,123.2 L130.3,122.9 L130.7,122.7 L131.0,122.5 L131.4,122.3 L131.8,122.1 L132.2,121.8 L132.6,121.6 L133.0,121.4 L133.3,121.3 L133.7,121.1 L134.1,120.9 L134.5,120.7 L134.9,120.5 L135.3,120.4 L135.6,120.2 L136.0,120.0 L136.4,119.9 L136.8,119.7 L137.2,119.6 L137.5,119.5 L137.9,119.3 L138.3,119.2 L138.7,119.1 L139.1,118.9 L139.5,118.8 L139.8,118.7 L140.2,118.6 L140.6,118.5 L141.0,118.4 L141.4,118.3 L141.7,118.2 L142.1,118.1 L142.5,118.0 L142.9,117.9 L143.3,117.8 L143.7,117.7 L144.0,117.6 L144.4,117.5 L144.8,117.5 L145.2,117.4 L145.6,117.3 L145.9,117.2 L146.3,117.2 L146.7,117.1 L147.1,117.0 L147.5,117.0 L147.9,116.9 L148.2,116.8 L148.6,116.8 L149.0,116.7 L149.4,116.7 L149.8,116.6 L150.2,116.6 L150.5,116.6 L150.9,116.5 L151.3,116.5 L151.7,116.5 L152.1,116.5 L152.4,116.5 L152.8,116.5 L153.2,116.5 L153.6,116.5 L154.0,116.5 L154.4,116.5 L154.7,116.6 L155.1,116.6 L155.5,116.7 L155.9,116.7 L156.3,116.8 L156.6,116.9 L157.0,116.9 L157.4,117.0 L157.8,117.1 L158.2,117.2 L158.6,117.3 L158.9,117.5 L159.3,117.6 L159.7,117.7 L160.1,117.8 L160.5,118.0 L160.8,118.1 L161.2,118.3 L161.6,118.4 L162.0,118.6 L162.4,118.8 L162.8,118.9 L163.1,119.1 L163.5,119.3 L163.9,119.5 L164.3,119.6 L164.7,119.8 L165.1,120.0 L165.4,120.2 L165.8,120.4 L166.2,120.6 L166.6,120.8 L167.0,121.0 L167.3,121.2 L167.7,121.4 L168.1,121.6 L168.5,121.8 L168.9,122.0 L169.3,122.2 L169.6,122.4 L170.0,122.6 L170.4,122.9 L170.8,123.1 L171.2,123.3 L171.5,123.5 L171.9,123.8 L172.3,124.0 L172.7,124.3 L173.1,124.5 L173.5,124.8 L173.8,125.0 L174.2,125.3 L174.6,125.6 L175.0,125.8 L175.4,126.1 L175.7,126.4 L176.1,126.7 L176.5,127.0 L176.9,127.2 L177.3,127.5 L177.7,127.8 L178.0,128.2 L178.4,128.5 L178.8,128.8 L179.2,129.1 L179.6,129.4 L180.0,129.8 L180.3,130.1 L180.7,130.4 L181.1,130.8 L181.5,131.1 L181.9,131.5 L182.2,131.8 L182.6,132.2 L183.0,132.6 L183.4,132.9 L183.8,133.3 L184.2,133.7 L184.5,134.1 L184.9,134.5 L185.3,134.9 L185.7,135.3 L186.1,135.7 L186.4,136.1 L186.8,136.5 L187.2,137.0 L187.6,137.4 L188.0,137.8 L188.4,138.3 L188.7,138.7 L189.1,139.2 L189.5,139.6 L189.9,140.1 L190.3,140.5 L190.6,141.0 L191.0,141.5 L191.4,142.0 L191.8,142.5 L192.2,143.0 L192.6,143.5 L192.9,144.0 L193.3,144.5 L193.7,145.0 L194.1,145.5 L194.5,146.0 L194.8,146.6 L195.2,147.1 L195.6,147.6 L196.0,148.2 L196.4,148.7 L196.8,149.3 L197.1,149.8 L197.5,150.4 L197.9,150.9 L198.3,151.5 L198.7,152.1 L199.1,152.6 L199.4,153.2" stroke="#ff0000" stroke-width="2.8"/>
<path d="M103.0,152.7 L103.4,152.1 L103.8,151.4 L104.1,150.8 L104.5,150.2 L104.9,149.6 L105.3,148.9 L105.7,148.3 L106.1,147.7 L106.4,147.1 L106.8,146.5 L107.2,145.9 L107.6,145.3 L108.0,144.7 L108.3,144.2 L108.7,143.6 L109.1,143.0 L109.5,142.5 L109.9,141.9 L110.2,141.3 L110.6,140.8 L111.0,140.2 L111.4,139.7 L111.8,139.2 L112.1,138.6 L112.5,138.1 L112.9,137.6 L113.3,137.1 L113.7,136.6 L114.0,136.1 L114.4,135.6 L114.8,135.1 L115.2,134.6 L115.6,134.1 L115.9,133.6 L116.3,133.1 L116.7,132.7 L117.1,132.2 L117.5,131.7 L117.9,131.3 L118.2,130.8 L118.6,130.4 L119.0,129.9 L119.4,129.5 L119.8,129.1 L120.1,128.6 L120.5,128.2 L120.9,127.8 L121.3,127.4 L121.7,127.0 L122.0,126.6 L122.4,126.2 L122.8,125.8 L123.2,125.4 L123.6,125.0 L123.9,124.6 L124.3,124.2 L124.7,123.9 L125.1,123.5 L125.5,123.1 L125.8,122.8 L126.2,122.4 L126.6,122.1 L127.0,121.7 L127.4,121.4 L127.8,121.0 L128.1,120.7 L128.5,120.4 L128.9,120.0 L129.3,119.7 L129.7,119.4 L130.0,119.1 L130.4,118.8 L130.8,118.5 L131.2,118.2 L131.6,117.9 L131.9,117.6 L132.3,117.3 L132.7,117.1 L133.1,116.8 L133.5,116.5 L133.8,116.3 L134.2,116.0 L134.6,115.8 L135.0,115.5 L135.4,115.3 L135.7,115.0 L136.1,114.8 L136.5,114.6 L136.9,114.3 L137.3,114.1 L137.7,113.9 L138.0,113.7 L138.4,113.5 L138.8,113.3 L139.2,113.1 L139.6,112.9 L139.9,112.7 L140.3,112.5 L140.7,112.3 L141.1,112.2 L141.5,112.0 L141.8,111.8 L142.2,111.7 L142.6,111.5 L143.0,111.3 L143.4,111.2 L143.7,111.0 L144.1,110.9 L144.5,110.8 L144.9,110.6 L145.3,110.5 L145.6,110.4 L146.0,110.3 L146.4,110.1 L146.8,110.0 L147.2,109.9 L147.6,109.8 L147.9,109.7 L148.3,109.6 L148.7,109.5 L149.1,109.4 L149.5,109.4 L149.8,109.3 L150.2,109.2 L150.6,109.1 L151.0,109.1 L151.4,109.0 L151.7,109.0 L152.1,108.9 L152.5,108.9 L152.9,108.9 L153.3,108.8 L153.6,108.8 L154.0,108.8 L154.4,108.8 L154.8,108.8 L155.2,108.8 L155.5,108.8 L155.9,108.8 L156.3,108.8 L156.7,108.9 L157.1,108.9 L157.5,108.9 L157.8,109.0 L158.2,109.0 L158.6,109.1 L159.0,109.1 L159.4,109.2 L159.7,109.3 L160.1,109.4 L160.5,109.4 L160.9,109.5 L161.3,109.6 L161.6,109.7 L162.0,109.8 L162.4,109.9 L162.8,110.0 L163.2,110.1 L163.5,110.3 L163.9,110.4 L164.3,110.5 L164.7,110.6 L165.1,110.8 L165.4,110.9 L165.8,111.1 L166.2,111.2 L166.6,111.4 L167.0,111.5 L167.4,111.7 L167.7,111.8 L168.1,112.0 L168.5,112.2 L168.9,112.4 L169.3,112.5 L169.6,112.7 L170.0,112.9 L170.4,113.1 L170.8,113.3 L171.2,113.5 L171.5,113.7 L171.9,113.9 L172.3,114.1 L172.7,114.3 L173.1,114.5 L173.4,114.7 L173.8,114.9 L174.2,115.1 L174.6,115.4 L175.0,115.6 L175.3,115.8 L175.7,116.0 L176.1,116.3 L176.5,116.5 L176.9,116.8 L177.2,117.0 L177.6,117.3 L178.0,117.6 L178.4,117.8 L178.8,118.1 L179.2,118.4 L179.5,118.7 L179.9,119.0 L180.3,119.3 L180.7,119.6 L181.1,119.9 L181.4,120.2 L181.8,120.5 L182.2,120.8 L182.6,121.2 L183.0,121.5 L183.3,121.8 L183.7,122.2 L184.1,122.5 L184.5,122.9 L184.9,123.3 L185.2,123.6 L185.6,124.0 L186.0,124.4 L186.4,124.8 L186.8,125.1 L187.1,125.5 L187.5,125.9 L187.9,126.3 L188.3,126.7 L188.7,127.2 L189.1,127.6 L189.4,128.0 L189.8,128.4 L190.2,128.9 L190.6,129.3 L191.0,129.7 L191.3,130.2 L191.7,130.6 L192.1,131.1 L192.5,131.5 L192.9,132.0 L193.2,132.5 L193.6,132.9 L194.0,133.4 L194.4,133.9 L194.8,134.4 L195.1,134.9 L195.5,135.4 L195.9,135.9 L196.3,136.4 L196.7,136.9 L197.0,137.4 L197.4,137.9 L197.8,138.4 L198.2,138.9 L198.6,139.5 L199.0,140.0 L199.3,140.6" stroke="#0000ff" stroke-width="2.8"/>
<path d="M102.9,148.6 L103.3,148.1 L103.6,147.6 L104.0,147.0 L104.4,146.5 L104.8,145.9 L105.1,145.4 L105.5,144.9 L105.9,144.3 L106.3,143.8 L106.6,143.3 L107.0,142.8 L107.4,142.3 L107.8,141.7 L108.2,141.2 L108.5,140.7 L108.9,140.2 L109.3,139.7 L109.7,139.2 L110.0,138.7 L110.4,138.2 L110.8,137.7 L111.2,137.2 L111.5,136.7 L111.9,136.1 L112.3,135.6 L112.7,135.1 L113.0,134.6 L113.4,134.1 L113.8,133.6 L114.2,133.1 L114.6,132.6 L114.9,132.0 L115.3,131.5 L115.7,131.0 L116.1,130.5 L116.4,129.9 L116.8,129.4 L117.2,128.9 L117.6,128.3 L117.9,127.8 L118.3,127.3 L118.7,126.7 L119.1,126.2 L119.5,125.7 L119.8,125.1 L120.2,124.6 L120.6,124.1 L121.0,123.5 L121.3,123.0 L121.7,122.5 L122.1,122.0 L122.5,121.4 L122.8,120.9 L123.2,120.4 L123.6,119.9 L124.0,119.4 L124.3,118.9 L124.7,118.4 L125.1,118.0 L125.5,117.5 L125.9,117.0 L126.2,116.6 L126.6,116.1 L127.0,115.7 L127.4,115.3 L127.7,114.9 L128.1,114.5 L128.5,114.1 L128.9,113.7 L129.2,113.3 L129.6,112.9 L130.0,112.5 L130.4,112.2 L130.7,111.8 L131.1,111.5 L131.5,111.2 L131.9,110.9 L132.3,110.5 L132.6,110.2 L133.0,109.9 L133.4,109.6 L133.8,109.4 L134.1,109.1 L134.5,108.8 L134.9,108.6 L135.3,108.3 L135.6,108.0 L136.0,107.8 L136.4,107.6 L136.8,107.3 L137.2,107.1 L137.5,106.9 L137.9,106.7 L138.3,106.5 L138.7,106.3 L139.0,106.1 L139.4,105.9 L139.8,105.7 L140.2,105.6 L140.5,105.4 L140.9,105.3 L141.3,105.1 L141.7,105.0 L142.0,104.9 L142.4,104.7 L142.8,104.6 L143.2,104.5 L143.6,104.4 L143.9,104.4 L144.3,104.3 L144.7,104.2 L145.1,104.1 L145.4,104.1 L145.8,104.0 L146.2,104.0 L146.6,103.9 L146.9,103.9 L147.3,103.9 L147.7,103.8 L148.1,103.8 L148.5,103.8 L148.8,103.8 L149.2,103.8 L149.6,103.7 L150.0,103.7 L150.3,103.7 L150.7,103.7 L151.1,103.7 L151.5,103.7 L151.8,103.7 L152.2,103.6 L152.6,103.6 L153.0,103.6 L153.3,103.6 L153.7,103.6 L154.1,103.6 L154.5,103.6 L154.9,103.6 L155.2,103.6 L155.6,103.6 L156.0,103.6 L156.4,103.6 L156.7,103.6 L157.1,103.7 L157.5,103.7 L157.9,103.7 L158.2,103.8 L158.6,103.8 L159.0,103.9 L159.4,103.9 L159.7,104.0 L160.1,104.1 L160.5,104.2 L160.9,104.3 L161.3,104.5 L161.6,104.6 L162.0,104.8 L162.4,105.0 L162.8,105.1 L163.1,105.3 L163.5,105.6 L163.9,105.8 L164.3,106.0 L164.6,106.3 L165.0,106.6 L165.4,106.8 L165.8,107.1 L166.2,107.4 L166.5,107.7 L166.9,108.0 L167.3,108.4 L167.7,108.7 L168.0,109.0 L168.4,109.3 L168.8,109.7 L169.2,110.0 L169.5,110.3 L169.9,110.6 L170.3,111.0 L170.7,111.3 L171.0,111.6 L171.4,111.9 L171.8,112.2 L172.2,112.6 L172.6,112.9 L172.9,113.2 L173.3,113.5 L173.7,113.8 L174.1,114.1 L174.4,114.4 L174.8,114.7 L175.2,115.1 L175.6,115.4 L175.9,115.7 L176.3,116.0 L176.7,116.3 L177.1,116.6 L177.4,117.0 L177.8,117.3 L178.2,117.6 L178.6,117.9 L179.0,118.3 L179.3,118.6 L179.7,119.0 L180.1,119.3 L180.5,119.7 L180.8,120.0 L181.2,120.4 L181.6,120.7 L182.0,121.1 L182.3,121.5 L182.7,121.8 L183.1,122.2 L183.5,122.6 L183.9,123.0 L184.2,123.4 L184.6,123.8 L185.0,124.2 L185.4,124.6 L185.7,125.0 L186.1,125.4 L186.5,125.8 L186.9,126.2 L187.2,126.6 L187.6,127.1 L188.0,127.5 L188.4,128.0 L188.7,128.4 L189.1,128.9 L189.5,129.3 L189.9,129.8 L190.3,130.3 L190.6,130.7 L191.0,131.2 L191.4,131.7 L191.8,132.2 L192.1,132.7 L192.5,133.2 L192.9,133.8 L193.3,134.3 L193.6,134.8 L194.0,135.3 L194.4,135.9 L194.8,136.4 L195.1,137.0 L195.5,137.5 L195.9,138.1 L196.3,138.7 L196.7,139.2 L197.0,139.8 L197.4,140.4 L197.8,141.0 L198.2,141.6 L198.5,142.2 L198.9,142.8 L199.3,143.4" stroke="#ff00ff" stroke-width="2.8"/>
<path d="M103.1,159.5 L103.5,158.9 L103.8,158.4 L104.2,157.8 L104.6,157.3 L105.0,156.7 L105.4,156.2 L105.8,155.6 L106.2,155.1 L106.6,154.6 L107.0,154.1 L107.3,153.5 L107.7,153.0 L108.1,152.5 L108.5,152.0 L108.9,151.5 L109.3,151.0 L109.7,150.5 L110.1,150.0 L110.4,149.5 L110.8,149.0 L111.2,148.5 L111.6,148.0 L112.0,147.5 L112.4,147.1 L112.8,146.6 L113.2,146.1 L113.5,145.7 L113.9,145.2 L114.3,144.7 L114.7,144.3 L115.1,143.8 L115.5,143.4 L115.9,142.9 L116.3,142.5 L116.6,142.1 L117.0,141.6 L117.4,141.2 L117.8,140.8 L118.2,140.4 L118.6,140.0 L119.0,139.5 L119.4,139.1 L119.7,138.7 L120.1,138.3 L120.5,137.9 L120.9,137.6 L121.3,137.2 L121.7,136.8 L122.1,136.4 L122.5,136.0 L122.8,135.7 L123.2,135.3 L123.6,134.9 L124.0,134.6 L124.4,134.2 L124.8,133.9 L125.2,133.5 L125.6,133.2 L125.9,132.8 L126.3,132.5 L126.7,132.2 L127.1,131.9 L127.5,131.5 L127.9,131.2 L128.3,130.9 L128.7,130.6 L129.1,130.3 L129.4,130.0 L129.8,129.7 L130.2,129.4 L130.6,129.1 L131.0,128.9 L131.4,128.6 L131.8,128.3 L132.2,128.0 L132.5,127.8 L132.9,127.5 L133.3,127.3 L133.7,127.0 L134.1,126.8 L134.5,126.5 L134.9,126.3 L135.3,126.1 L135.6,125.8 L136.0,125.6 L136.4,125.4 L136.8,125.2 L137.2,125.0 L137.6,124.8 L138.0,124.6 L138.4,124.4 L138.7,124.2 L139.1,124.0 L139.5,123.8 L139.9,123.6 L140.3,123.5 L140.7,123.3 L141.1,123.1 L141.5,123.0 L141.8,122.8 L142.2,122.7 L142.6,122.5 L143.0,122.4 L143.4,122.3 L143.8,122.1 L144.2,122.0 L144.6,121.9 L144.9,121.8 L145.3,121.7 L145.7,121.6 L146.1,121.4 L146.5,121.4 L146.9,121.3 L147.3,121.2 L147.7,121.1 L148.0,121.0 L148.4,120.9 L148.8,120.9 L149.2,120.8 L149.6,120.7 L150.0,120.7 L150.4,120.6 L150.8,120.6 L151.2,120.6 L151.5,120.5 L151.9,120.5 L152.3,120.5 L152.7,120.4 L153.1,120.4 L153.5,120.4 L153.9,120.4 L154.3,120.4 L154.6,120.4 L155.0,120.4 L155.4,120.4 L155.8,120.4 L156.2,120.5 L156.6,120.5 L157.0,120.5 L157.4,120.5 L157.7,120.6 L158.1,120.6 L158.5,120.7 L158.9,120.7 L159.3,120.8 L159.7,120.9 L160.1,120.9 L160.5,121.0 L160.8,121.1 L161.2,121.2 L161.6,121.2 L162.0,121.3 L162.4,121.4 L162.8,121.5 L163.2,121.6 L163.6,121.7 L163.9,121.9 L164.3,122.0 L164.7,122.1 L165.1,122.2 L165.5,122.4 L165.9,122.5 L166.3,122.6 L166.7,122.8 L167.0,122.9 L167.4,123.1 L167.8,123.3 L168.2,123.4 L168.6,123.6 L169.0,123.8 L169.4,124.0 L169.8,124.1 L170.1,124.3 L170.5,124.5 L170.9,124.7 L171.3,124.9 L171.7,125.1 L172.1,125.3 L172.5,125.6 L172.9,125.8 L173.3,126.0 L173.6,126.2 L174.0,126.5 L174.4,126.7 L174.8,127.0 L175.2,127.2 L175.6,127.5 L176.0,127.7 L176.4,128.0 L176.7,128.2 L177.1,128.5 L177.5,128.8 L177.9,129.1 L178.3,129.4 L178.7,129.6 L179.1,129.9 L179.5,130.2 L179.8,130.5 L180.2,130.8 L180.6,131.2 L181.0,131.5 L181.4,131.8 L181.8,132.1 L182.2,132.4 L182.6,132.8 L182.9,133.1 L183.3,133.4 L183.7,133.8 L184.1,134.1 L184.5,134.5 L184.9,134.8 L185.3,135.2 L185.7,135.6 L186.0,135.9 L186.4,136.3 L186.8,136.7 L187.2,137.1 L187.6,137.5 L188.0,137.8 L188.4,138.2 L188.8,138.6 L189.1,139.0 L189.5,139.4 L189.9,139.9 L190.3,140.3 L190.7,140.7 L191.1,141.1 L191.5,141.5 L191.9,142.0 L192.2,142.4 L192.6,142.8 L193.0,143.3 L193.4,143.7 L193.8,144.2 L194.2,144.6 L194.6,145.1 L195.0,145.5 L195.4,146.0 L195.7,146.5 L196.1,146.9 L196.5,147.4 L196.9,147.9 L197.3,148.4 L197.7,148.9 L198.1,149.4 L198.5,149.9 L198.8,150.4 L199.2,150.9" stroke="#00ff00" stroke-width="2.6" stroke-dasharray="2 1.8"/>
</g>
<path d="M118.9,142.0 v-2.5 M118.9,89.5 v2.5 M149.9,142.0 v-2.5 M149.9,89.5 v2.5 M180.9,142.0 v-2.5 M180.9,89.5 v2.5 M112.1,140.6 h2.5 M190.2,140.6 h-2.5 M112.1,120.4 h2.5 M190.2,120.4 h-2.5 M112.1,100.2 h2.5 M190.2,100.2 h-2.5" stroke="#404040" stroke-width="0.8" fill="none"/>
<rect x="112.1" y="89.5" width="78.1" height="52.5" fill="none" stroke="#404040" stroke-width="1"/>
<text x="118.9" y="163.6" font-size="17.7" text-anchor="middle">2</text>
<text x="149.9" y="163.6" font-size="17.7" text-anchor="middle">3</text>
<text x="180.9" y="163.6" font-size="17.7" text-anchor="middle">4</text>
<text x="106.6" y="147.7" font-size="17.7" text-anchor="end" letter-spacing="-0.35">2.5</text>
<text x="106.6" y="127.5" font-size="17.7" text-anchor="end" letter-spacing="-0.35">3</text>
<text x="106.6" y="107.3" font-size="17.7" text-anchor="end" letter-spacing="-0.35">3.5</text>
<rect x="313.5" y="141.3" width="76.9" height="38.9" fill="#ffffff"/>
<path d="M318.8,141.3 V180.2 M325.0,141.3 V180.2 M331.2,141.3 V180.2 M337.5,141.3 V180.2 M343.7,141.3 V180.2 M349.9,141.3 V180.2 M356.2,141.3 V180.2 M362.4,141.3 V180.2 M368.6,141.3 V180.2 M374.8,141.3 V180.2 M381.1,141.3 V180.2 M387.3,141.3 V180.2 M313.5,180.2 H390.4 M313.5,177.2 H390.4 M313.5,174.2 H390.4 M313.5,171.2 H390.4 M313.5,168.2 H390.4 M313.5,165.2 H390.4 M313.5,162.2 H390.4 M313.5,159.3 H390.4 M313.5,156.3 H390.4 M313.5,153.3 H390.4 M313.5,150.3 H390.4 M313.5,147.3 H390.4 M313.5,144.3 H390.4 M313.5,141.3 H390.4" stroke="#c6c6c6" stroke-width="0.6" stroke-dasharray="0.8 1.4" fill="none"/>
<clipPath id="ci2"><rect x="313.5" y="141.3" width="76.9" height="38.9"/></clipPath>
<g clip-path="url(#ci2)" fill="none" stroke-linejoin="round">
<path d="M304.3,146.5 L304.7,146.8 L305.1,147.2 L305.5,147.5 L305.9,147.8 L306.3,148.2 L306.6,148.5 L307.0,148.8 L307.4,149.1 L307.8,149.4 L308.2,149.7 L308.6,150.0 L308.9,150.4 L309.3,150.7 L309.7,151.0 L310.1,151.2 L310.5,151.5 L310.9,151.8 L311.2,152.1 L311.6,152.4 L312.0,152.7 L312.4,153.0 L312.8,153.2 L313.2,153.5 L313.6,153.8 L313.9,154.0 L314.3,154.3 L314.7,154.5 L315.1,154.8 L315.5,155.0 L315.9,155.3 L316.2,155.5 L316.6,155.7 L317.0,156.0 L317.4,156.2 L317.8,156.4 L318.2,156.6 L318.5,156.8 L318.9,157.1 L319.3,157.3 L319.7,157.5 L320.1,157.6 L320.5,157.8 L320.8,158.0 L321.2,158.2 L321.6,158.4 L322.0,158.5 L322.4,158.7 L322.8,158.9 L323.1,159.0 L323.5,159.2 L323.9,159.3 L324.3,159.5 L324.7,159.6 L325.1,159.7 L325.4,159.9 L325.8,160.0 L326.2,160.1 L326.6,160.2 L327.0,160.3 L327.4,160.5 L327.8,160.6 L328.1,160.7 L328.5,160.8 L328.9,160.9 L329.3,160.9 L329.7,161.0 L330.1,161.1 L330.4,161.2 L330.8,161.3 L331.2,161.3 L331.6,161.4 L332.0,161.5 L332.4,161.5 L332.7,161.6 L333.1,161.6 L333.5,161.7 L333.9,161.7 L334.3,161.7 L334.7,161.8 L335.0,161.8 L335.4,161.8 L335.8,161.9 L336.2,161.9 L336.6,161.9 L337.0,161.9 L337.3,162.0 L337.7,162.0 L338.1,162.0 L338.5,162.0 L338.9,162.0 L339.3,162.0 L339.6,162.0 L340.0,162.0 L340.4,162.0 L340.8,161.9 L341.2,161.9 L341.6,161.9 L342.0,161.9 L342.3,161.9 L342.7,161.8 L343.1,161.8 L343.5,161.8 L343.9,161.7 L344.3,161.7 L344.6,161.7 L345.0,161.6 L345.4,161.6 L345.8,161.5 L346.2,161.5 L346.6,161.4 L346.9,161.4 L347.3,161.3 L347.7,161.2 L348.1,161.2 L348.5,161.1 L348.9,161.0 L349.2,160.9 L349.6,160.9 L350.0,160.8 L350.4,160.7 L350.8,160.6 L351.2,160.5 L351.5,160.4 L351.9,160.3 L352.3,160.2 L352.7,160.1 L353.1,160.0 L353.5,159.9 L353.8,159.7 L354.2,159.6 L354.6,159.5 L355.0,159.4 L355.4,159.2 L355.8,159.1 L356.2,159.0 L356.5,158.8 L356.9,158.7 L357.3,158.6 L357.7,158.4 L358.1,158.3 L358.5,158.1 L358.8,157.9 L359.2,157.8 L359.6,157.6 L360.0,157.5 L360.4,157.3 L360.8,157.1 L361.1,156.9 L361.5,156.8 L361.9,156.6 L362.3,156.4 L362.7,156.2 L363.1,156.0 L363.4,155.8 L363.8,155.6 L364.2,155.4 L364.6,155.2 L365.0,155.0 L365.4,154.8 L365.7,154.6 L366.1,154.4 L366.5,154.2 L366.9,154.0 L367.3,153.7 L367.7,153.5 L368.0,153.3 L368.4,153.1 L368.8,152.8 L369.2,152.6 L369.6,152.3 L370.0,152.1 L370.4,151.9 L370.7,151.6 L371.1,151.4 L371.5,151.1 L371.9,150.9 L372.3,150.6 L372.7,150.3 L373.0,150.1 L373.4,149.8 L373.8,149.5 L374.2,149.3 L374.6,149.0 L375.0,148.7 L375.3,148.5 L375.7,148.2 L376.1,147.9 L376.5,147.6 L376.9,147.3 L377.3,147.0 L377.6,146.7 L378.0,146.5 L378.4,146.2 L378.8,145.9 L379.2,145.6 L379.6,145.3 L379.9,144.9 L380.3,144.6 L380.7,144.3 L381.1,144.0 L381.5,143.7 L381.9,143.4 L382.2,143.1 L382.6,142.7 L383.0,142.4 L383.4,142.1 L383.8,141.7 L384.2,141.4 L384.6,141.1 L384.9,140.7 L385.3,140.4 L385.7,140.0 L386.1,139.7 L386.5,139.3 L386.9,139.0 L387.2,138.6 L387.6,138.3 L388.0,137.9 L388.4,137.5 L388.8,137.2 L389.2,136.8 L389.5,136.4 L389.9,136.1 L390.3,135.7 L390.7,135.3 L391.1,134.9 L391.5,134.5 L391.8,134.1 L392.2,133.7 L392.6,133.4 L393.0,133.0 L393.4,132.6 L393.8,132.2 L394.1,131.7 L394.5,131.3 L394.9,130.9 L395.3,130.5 L395.7,130.1 L396.1,129.7 L396.4,129.2 L396.8,128.8 L397.2,128.4 L397.6,127.9 L398.0,127.5 L398.4,127.0 L398.8,126.6 L399.1,126.1 L399.5,125.7" stroke="#ff0000" stroke-width="2.8"/>
<path d="M304.2,148.3 L304.6,148.7 L305.0,149.1 L305.4,149.5 L305.8,149.8 L306.2,150.2 L306.5,150.6 L306.9,151.0 L307.3,151.4 L307.7,151.8 L308.1,152.2 L308.5,152.5 L308.8,152.9 L309.2,153.3 L309.6,153.6 L310.0,154.0 L310.4,154.4 L310.8,154.7 L311.1,155.0 L311.5,155.4 L311.9,155.7 L312.3,156.0 L312.7,156.3 L313.0,156.7 L313.4,157.0 L313.8,157.3 L314.2,157.5 L314.6,157.8 L315.0,158.1 L315.3,158.4 L315.7,158.7 L316.1,158.9 L316.5,159.2 L316.9,159.4 L317.3,159.7 L317.6,159.9 L318.0,160.1 L318.4,160.3 L318.8,160.6 L319.2,160.8 L319.5,161.0 L319.9,161.2 L320.3,161.4 L320.7,161.6 L321.1,161.8 L321.5,162.0 L321.8,162.1 L322.2,162.3 L322.6,162.5 L323.0,162.7 L323.4,162.8 L323.8,163.0 L324.1,163.1 L324.5,163.3 L324.9,163.4 L325.3,163.6 L325.7,163.7 L326.0,163.9 L326.4,164.0 L326.8,164.1 L327.2,164.2 L327.6,164.4 L328.0,164.5 L328.3,164.6 L328.7,164.7 L329.1,164.8 L329.5,164.9 L329.9,165.0 L330.3,165.1 L330.6,165.2 L331.0,165.3 L331.4,165.4 L331.8,165.4 L332.2,165.5 L332.6,165.6 L332.9,165.7 L333.3,165.7 L333.7,165.8 L334.1,165.9 L334.5,165.9 L334.8,166.0 L335.2,166.0 L335.6,166.1 L336.0,166.1 L336.4,166.2 L336.8,166.2 L337.1,166.3 L337.5,166.3 L337.9,166.3 L338.3,166.4 L338.7,166.4 L339.1,166.4 L339.4,166.4 L339.8,166.5 L340.2,166.5 L340.6,166.5 L341.0,166.5 L341.3,166.5 L341.7,166.5 L342.1,166.5 L342.5,166.5 L342.9,166.5 L343.3,166.6 L343.6,166.6 L344.0,166.5 L344.4,166.5 L344.8,166.5 L345.2,166.5 L345.6,166.5 L345.9,166.5 L346.3,166.5 L346.7,166.5 L347.1,166.5 L347.5,166.5 L347.9,166.4 L348.2,166.4 L348.6,166.4 L349.0,166.4 L349.4,166.3 L349.8,166.3 L350.1,166.3 L350.5,166.3 L350.9,166.2 L351.3,166.2 L351.7,166.2 L352.1,166.1 L352.4,166.1 L352.8,166.0 L353.2,166.0 L353.6,166.0 L354.0,165.9 L354.4,165.9 L354.7,165.8 L355.1,165.7 L355.5,165.7 L355.9,165.6 L356.3,165.5 L356.6,165.5 L357.0,165.4 L357.4,165.3 L357.8,165.2 L358.2,165.1 L358.6,165.0 L358.9,164.9 L359.3,164.8 L359.7,164.7 L360.1,164.6 L360.5,164.5 L360.9,164.4 L361.2,164.2 L361.6,164.1 L362.0,163.9 L362.4,163.8 L362.8,163.6 L363.2,163.5 L363.5,163.3 L363.9,163.1 L364.3,163.0 L364.7,162.8 L365.1,162.6 L365.4,162.4 L365.8,162.2 L366.2,162.0 L366.6,161.8 L367.0,161.6 L367.4,161.3 L367.7,161.1 L368.1,160.9 L368.5,160.6 L368.9,160.4 L369.3,160.1 L369.7,159.9 L370.0,159.6 L370.4,159.4 L370.8,159.1 L371.2,158.8 L371.6,158.5 L371.9,158.2 L372.3,158.0 L372.7,157.7 L373.1,157.4 L373.5,157.1 L373.9,156.8 L374.2,156.4 L374.6,156.1 L375.0,155.8 L375.4,155.5 L375.8,155.2 L376.2,154.8 L376.5,154.5 L376.9,154.1 L377.3,153.8 L377.7,153.5 L378.1,153.1 L378.4,152.8 L378.8,152.4 L379.2,152.0 L379.6,151.7 L380.0,151.3 L380.4,150.9 L380.7,150.6 L381.1,150.2 L381.5,149.8 L381.9,149.4 L382.3,149.1 L382.7,148.7 L383.0,148.3 L383.4,147.9 L383.8,147.5 L384.2,147.1 L384.6,146.7 L385.0,146.3 L385.3,145.9 L385.7,145.5 L386.1,145.1 L386.5,144.7 L386.9,144.3 L387.2,143.9 L387.6,143.5 L388.0,143.0 L388.4,142.6 L388.8,142.2 L389.2,141.8 L389.5,141.4 L389.9,141.0 L390.3,140.5 L390.7,140.1 L391.1,139.7 L391.5,139.3 L391.8,138.9 L392.2,138.4 L392.6,138.0 L393.0,137.6 L393.4,137.2 L393.7,136.7 L394.1,136.3 L394.5,135.9 L394.9,135.5 L395.3,135.0 L395.7,134.6 L396.0,134.2 L396.4,133.7 L396.8,133.3 L397.2,132.9 L397.6,132.5 L398.0,132.0 L398.3,131.6 L398.7,131.2 L399.1,130.7 L399.5,130.3" stroke="#0000ff" stroke-width="2.8"/>
<path d="M304.5,145.8 L304.9,146.2 L305.3,146.6 L305.7,147.0 L306.0,147.4 L306.4,147.8 L306.8,148.2 L307.2,148.6 L307.6,149.0 L307.9,149.4 L308.3,149.8 L308.7,150.2 L309.1,150.6 L309.4,151.0 L309.8,151.4 L310.2,151.8 L310.6,152.1 L311.0,152.5 L311.3,152.9 L311.7,153.3 L312.1,153.6 L312.5,154.0 L312.8,154.3 L313.2,154.7 L313.6,155.0 L314.0,155.4 L314.4,155.7 L314.7,156.0 L315.1,156.4 L315.5,156.7 L315.9,157.0 L316.3,157.3 L316.6,157.6 L317.0,157.9 L317.4,158.3 L317.8,158.5 L318.1,158.8 L318.5,159.1 L318.9,159.4 L319.3,159.7 L319.7,160.0 L320.0,160.2 L320.4,160.5 L320.8,160.8 L321.2,161.0 L321.5,161.3 L321.9,161.6 L322.3,161.8 L322.7,162.0 L323.1,162.3 L323.4,162.5 L323.8,162.8 L324.2,163.0 L324.6,163.2 L325.0,163.5 L325.3,163.7 L325.7,163.9 L326.1,164.1 L326.5,164.3 L326.8,164.5 L327.2,164.7 L327.6,164.9 L328.0,165.1 L328.4,165.3 L328.7,165.5 L329.1,165.7 L329.5,165.9 L329.9,166.1 L330.3,166.2 L330.6,166.4 L331.0,166.6 L331.4,166.7 L331.8,166.9 L332.1,167.1 L332.5,167.2 L332.9,167.4 L333.3,167.5 L333.7,167.6 L334.0,167.8 L334.4,167.9 L334.8,168.1 L335.2,168.2 L335.5,168.3 L335.9,168.4 L336.3,168.5 L336.7,168.7 L337.1,168.8 L337.4,168.9 L337.8,169.0 L338.2,169.1 L338.6,169.2 L339.0,169.2 L339.3,169.3 L339.7,169.4 L340.1,169.5 L340.5,169.6 L340.8,169.6 L341.2,169.7 L341.6,169.8 L342.0,169.8 L342.4,169.9 L342.7,169.9 L343.1,170.0 L343.5,170.0 L343.9,170.1 L344.2,170.1 L344.6,170.1 L345.0,170.2 L345.4,170.2 L345.8,170.2 L346.1,170.2 L346.5,170.2 L346.9,170.3 L347.3,170.3 L347.7,170.3 L348.0,170.3 L348.4,170.3 L348.8,170.3 L349.2,170.2 L349.5,170.2 L349.9,170.2 L350.3,170.2 L350.7,170.2 L351.1,170.1 L351.4,170.1 L351.8,170.1 L352.2,170.0 L352.6,170.0 L353.0,169.9 L353.3,169.9 L353.7,169.8 L354.1,169.8 L354.5,169.7 L354.8,169.6 L355.2,169.6 L355.6,169.5 L356.0,169.4 L356.4,169.3 L356.7,169.2 L357.1,169.2 L357.5,169.1 L357.9,169.0 L358.2,168.9 L358.6,168.7 L359.0,168.6 L359.4,168.5 L359.8,168.4 L360.1,168.2 L360.5,168.1 L360.9,167.9 L361.3,167.8 L361.7,167.6 L362.0,167.5 L362.4,167.3 L362.8,167.1 L363.2,166.9 L363.5,166.7 L363.9,166.5 L364.3,166.3 L364.7,166.0 L365.1,165.8 L365.4,165.6 L365.8,165.3 L366.2,165.0 L366.6,164.8 L366.9,164.5 L367.3,164.2 L367.7,163.9 L368.1,163.6 L368.5,163.2 L368.8,162.9 L369.2,162.6 L369.6,162.2 L370.0,161.9 L370.4,161.5 L370.7,161.2 L371.1,160.8 L371.5,160.4 L371.9,160.0 L372.2,159.6 L372.6,159.2 L373.0,158.8 L373.4,158.4 L373.8,158.0 L374.1,157.6 L374.5,157.2 L374.9,156.8 L375.3,156.4 L375.7,156.0 L376.0,155.6 L376.4,155.2 L376.8,154.7 L377.2,154.3 L377.5,153.9 L377.9,153.5 L378.3,153.1 L378.7,152.7 L379.1,152.3 L379.4,151.8 L379.8,151.4 L380.2,151.0 L380.6,150.6 L380.9,150.2 L381.3,149.8 L381.7,149.4 L382.1,149.0 L382.5,148.6 L382.8,148.2 L383.2,147.8 L383.6,147.4 L384.0,147.0 L384.4,146.6 L384.7,146.1 L385.1,145.7 L385.5,145.3 L385.9,144.9 L386.2,144.5 L386.6,144.1 L387.0,143.7 L387.4,143.3 L387.8,142.9 L388.1,142.4 L388.5,142.0 L388.9,141.6 L389.3,141.2 L389.6,140.8 L390.0,140.3 L390.4,139.9 L390.8,139.5 L391.2,139.0 L391.5,138.6 L391.9,138.2 L392.3,137.7 L392.7,137.3 L393.1,136.9 L393.4,136.4 L393.8,136.0 L394.2,135.5 L394.6,135.1 L394.9,134.6 L395.3,134.2 L395.7,133.7 L396.1,133.3 L396.5,132.8 L396.8,132.3 L397.2,131.9 L397.6,131.4 L398.0,130.9 L398.3,130.5 L398.7,130.0 L399.1,129.5 L399.5,129.0" stroke="#ff00ff" stroke-width="2.8"/>
<path d="M304.2,141.1 L304.6,141.5 L305.0,141.8 L305.4,142.1 L305.8,142.5 L306.2,142.8 L306.6,143.1 L306.9,143.4 L307.3,143.8 L307.7,144.1 L308.1,144.4 L308.5,144.7 L308.9,145.0 L309.3,145.3 L309.7,145.6 L310.1,145.9 L310.4,146.2 L310.8,146.5 L311.2,146.8 L311.6,147.0 L312.0,147.3 L312.4,147.6 L312.8,147.9 L313.2,148.2 L313.6,148.4 L314.0,148.7 L314.3,148.9 L314.7,149.2 L315.1,149.5 L315.5,149.7 L315.9,150.0 L316.3,150.2 L316.7,150.5 L317.1,150.7 L317.5,150.9 L317.8,151.2 L318.2,151.4 L318.6,151.6 L319.0,151.9 L319.4,152.1 L319.8,152.3 L320.2,152.5 L320.6,152.7 L321.0,152.9 L321.4,153.1 L321.7,153.3 L322.1,153.5 L322.5,153.7 L322.9,153.9 L323.3,154.1 L323.7,154.3 L324.1,154.5 L324.5,154.7 L324.9,154.8 L325.2,155.0 L325.6,155.2 L326.0,155.3 L326.4,155.5 L326.8,155.7 L327.2,155.8 L327.6,156.0 L328.0,156.1 L328.4,156.3 L328.8,156.4 L329.1,156.5 L329.5,156.7 L329.9,156.8 L330.3,156.9 L330.7,157.1 L331.1,157.2 L331.5,157.3 L331.9,157.4 L332.3,157.5 L332.6,157.6 L333.0,157.7 L333.4,157.8 L333.8,157.9 L334.2,158.0 L334.6,158.1 L335.0,158.2 L335.4,158.3 L335.8,158.4 L336.2,158.5 L336.5,158.5 L336.9,158.6 L337.3,158.7 L337.7,158.7 L338.1,158.8 L338.5,158.8 L338.9,158.9 L339.3,158.9 L339.7,159.0 L340.0,159.0 L340.4,159.1 L340.8,159.1 L341.2,159.1 L341.6,159.2 L342.0,159.2 L342.4,159.2 L342.8,159.2 L343.2,159.2 L343.6,159.2 L343.9,159.3 L344.3,159.3 L344.7,159.3 L345.1,159.2 L345.5,159.2 L345.9,159.2 L346.3,159.2 L346.7,159.2 L347.1,159.2 L347.4,159.2 L347.8,159.1 L348.2,159.1 L348.6,159.1 L349.0,159.0 L349.4,159.0 L349.8,158.9 L350.2,158.9 L350.6,158.8 L351.0,158.8 L351.3,158.7 L351.7,158.6 L352.1,158.6 L352.5,158.5 L352.9,158.4 L353.3,158.4 L353.7,158.3 L354.1,158.2 L354.5,158.1 L354.8,158.0 L355.2,157.9 L355.6,157.8 L356.0,157.7 L356.4,157.6 L356.8,157.5 L357.2,157.4 L357.6,157.3 L358.0,157.2 L358.4,157.0 L358.7,156.9 L359.1,156.8 L359.5,156.6 L359.9,156.5 L360.3,156.4 L360.7,156.2 L361.1,156.1 L361.5,155.9 L361.9,155.8 L362.2,155.6 L362.6,155.5 L363.0,155.3 L363.4,155.1 L363.8,155.0 L364.2,154.8 L364.6,154.6 L365.0,154.4 L365.4,154.2 L365.8,154.1 L366.1,153.9 L366.5,153.7 L366.9,153.5 L367.3,153.3 L367.7,153.1 L368.1,152.9 L368.5,152.7 L368.9,152.4 L369.3,152.2 L369.7,152.0 L370.0,151.8 L370.4,151.6 L370.8,151.3 L371.2,151.1 L371.6,150.9 L372.0,150.6 L372.4,150.4 L372.8,150.1 L373.2,149.9 L373.5,149.6 L373.9,149.4 L374.3,149.1 L374.7,148.9 L375.1,148.6 L375.5,148.3 L375.9,148.1 L376.3,147.8 L376.7,147.5 L377.1,147.2 L377.4,147.0 L377.8,146.7 L378.2,146.4 L378.6,146.1 L379.0,145.8 L379.4,145.5 L379.8,145.2 L380.2,144.9 L380.6,144.6 L380.9,144.3 L381.3,144.0 L381.7,143.7 L382.1,143.3 L382.5,143.0 L382.9,142.7 L383.3,142.4 L383.7,142.0 L384.1,141.7 L384.5,141.4 L384.8,141.0 L385.2,140.7 L385.6,140.4 L386.0,140.0 L386.4,139.7 L386.8,139.3 L387.2,139.0 L387.6,138.6 L388.0,138.2 L388.3,137.9 L388.7,137.5 L389.1,137.1 L389.5,136.8 L389.9,136.4 L390.3,136.0 L390.7,135.6 L391.1,135.3 L391.5,134.9 L391.9,134.5 L392.2,134.1 L392.6,133.7 L393.0,133.3 L393.4,132.9 L393.8,132.5 L394.2,132.1 L394.6,131.7 L395.0,131.3 L395.4,130.9 L395.7,130.5 L396.1,130.1 L396.5,129.7 L396.9,129.3 L397.3,128.8 L397.7,128.4 L398.1,128.0 L398.5,127.6 L398.9,127.1 L399.3,126.7 L399.6,126.3" stroke="#00ff00" stroke-width="2.6" stroke-dasharray="2 1.8"/>
</g>
<path d="M331.2,180.2 v-2.5 M331.2,141.3 v2.5 M362.4,180.2 v-2.5 M362.4,141.3 v2.5 M313.5,174.2 h2.5 M390.4,174.2 h-2.5 M313.5,159.3 h2.5 M390.4,159.3 h-2.5 M313.5,144.3 h2.5 M390.4,144.3 h-2.5" stroke="#404040" stroke-width="0.8" fill="none"/>
<rect x="313.5" y="141.3" width="76.9" height="38.9" fill="none" stroke="#404040" stroke-width="1"/>
<text x="331.2" y="201.9" font-size="17.7" text-anchor="middle">9</text>
<text x="362.4" y="201.9" font-size="17.7" text-anchor="middle">10</text>
<text x="306.5" y="180.1" font-size="17.7" text-anchor="end" letter-spacing="-0.35">-3.5</text>
<text x="306.5" y="165.2" font-size="17.7" text-anchor="end" letter-spacing="-0.35">-3</text>
<text x="306.5" y="150.2" font-size="17.7" text-anchor="end" letter-spacing="-0.35">-2.5</text>
<rect x="50.1" y="216.7" width="199.0" height="64.0" fill="#ffffff" stroke="#262626" stroke-width="1"/>
<path d="M59.7,225.9 H88" stroke="#ff0000" stroke-width="2" fill="none"/>
<text x="91" y="228.5" font-size="10.25" style="fill:#000;stroke:#000;stroke-width:0.25">GA-NMPC</text>
<path d="M59.7,241.5 H88" stroke="#0000ff" stroke-width="2" fill="none"/>
<text x="91" y="244.1" font-size="10.25" style="fill:#000;stroke:#000;stroke-width:0.25">Q=diag(100,100,100),R=diag(1,1,1)</text>
<path d="M59.7,256.7 H88" stroke="#ff00ff" stroke-width="2" fill="none"/>
<text x="91" y="259.3" font-size="10.25" style="fill:#000;stroke:#000;stroke-width:0.25">Q=diag(5,5,5),R=diag(1,1,1)</text>
<path d="M59.7,271.7 H88" stroke="#00ff00" stroke-width="1.8" stroke-dasharray="1.6 1.6" fill="none"/>
<text x="91" y="274.3" font-size="10.25" style="fill:#000;stroke:#000;stroke-width:0.25">Reference</text>
</svg></body></html>
